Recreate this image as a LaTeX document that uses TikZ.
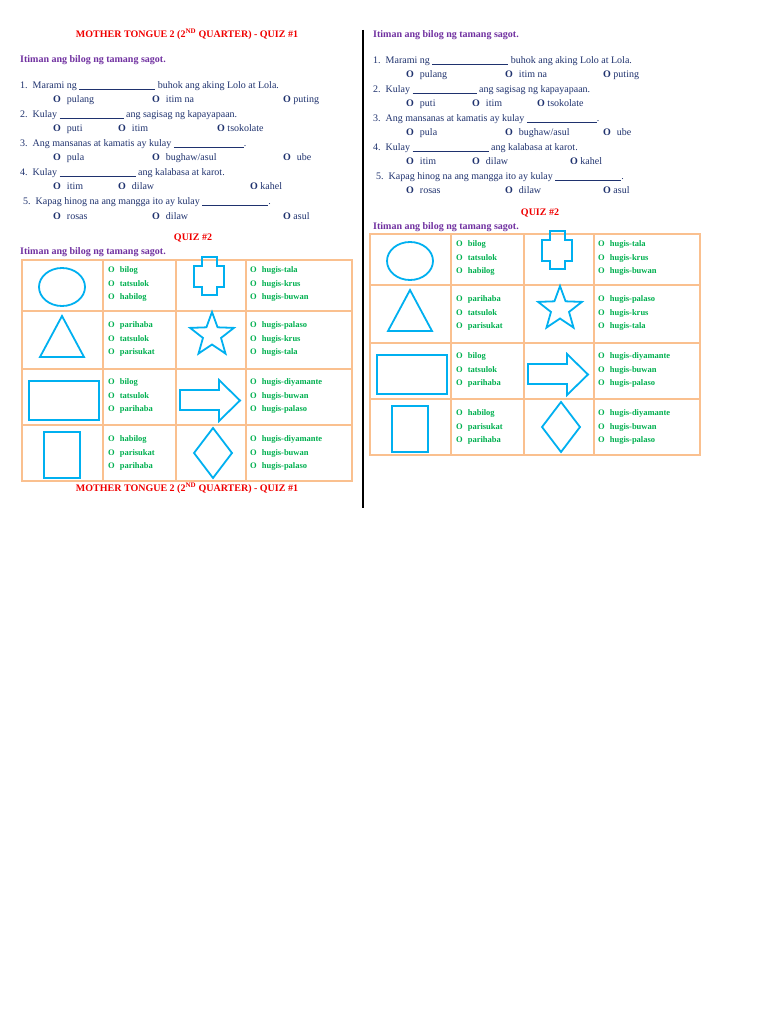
\documentclass[tikz,border=0pt]{standalone}
\usepackage{fontspec}
\setmainfont{Liberation Serif}
\usetikzlibrary{shapes.geometric}
\definecolor{navy}{RGB}{31,50,110}
\definecolor{purp}{RGB}{112,48,160}
\definecolor{grn}{RGB}{0,176,80}
\definecolor{cyn}{RGB}{0,176,240}
\definecolor{org}{RGB}{250,192,143}
\definecolor{redt}{RGB}{240,0,0}
\newcommand{\blank}[1]{\rule[-1pt]{#1pt}{0.5pt}}
\newcommand{\Tx}[3]{\node[txt] at (#1,-#2-3.5) {#3};}
\newcommand{\Op}[3]{\node[txt] at (#1,-#2-3.5) {\textbf{O}\hspace{6pt}#3};}
\newcommand{\quizone}[9]{%
  \pgfmathsetmacro\ya{#2}\pgfmathsetmacro\yb{#2+#3}\pgfmathsetmacro\yc{#2+2*#3}
  \pgfmathsetmacro\yd{#2+3*#3}\pgfmathsetmacro\ye{#2+4*#3}\pgfmathsetmacro\yf{#2+5*#3}
  \pgfmathsetmacro\yg{#2+6*#3}\pgfmathsetmacro\yh{#2+7*#3}\pgfmathsetmacro\yi{#2+8*#3}
  \pgfmathsetmacro\yj{#2+9*#3}
  \Tx{#1}{\ya}{1.\ \ Marami ng \blank{76} buhok ang aking Lolo at Lola.}
  \Op{#4}{\yb}{pulang}\Op{#5}{\yb}{itim na}\Tx{#6}{\yb}{\textbf{O} puting}
  \Tx{#1}{\yc}{2.\ \ Kulay \blank{64} ang sagisag ng kapayapaan.}
  \Op{#4}{\yd}{puti}\Op{#7}{\yd}{itim}\Tx{#8}{\yd}{\textbf{O} tsokolate}
  \Tx{#1}{\ye}{3.\ \ Ang mansanas at kamatis ay kulay \blank{70}.}
  \Op{#4}{\yf}{pula}\Op{#5}{\yf}{bughaw/asul}\Op{#6}{\yf}{ube}
  \Tx{#1}{\yg}{4.\ \ Kulay \blank{76} ang kalabasa at karot.}
  \Op{#4}{\yh}{itim}\Op{#7}{\yh}{dilaw}\Tx{#9}{\yh}{\textbf{O} kahel}
  \Tx{#1+3}{\yi}{5.\ \ Kapag hinog na ang mangga ito ay kulay \blank{66}.}
  \Op{#4}{\yj}{rosas}\Op{#5}{\yj}{dilaw}\Tx{#6}{\yj}{\textbf{O} asul}
}
\newcommand{\gthree}[5]{%
  \node[gtx] at (#1,-#2+13.5-3) {\textbf{O}\hspace{5pt}#3};
  \node[gtx] at (#1,-#2-3) {\textbf{O}\hspace{5pt}#4};
  \node[gtx] at (#1,-#2-13.5-3) {\textbf{O}\hspace{5pt}#5};}
\newcommand{\quiztwo}[2]{%
 \begin{scope}[shift={(#1,-#2)},yscale=-1]
  \draw[org,line width=1.6pt] (0,0) rectangle (330,221);
  \foreach \x in {81,154,224} \draw[org,line width=1.6pt] (\x,0)--(\x,221);
  \foreach \y in {51,109,165} \draw[org,line width=1.6pt] (0,\y)--(330,\y);
  \draw[shp] (40,27) ellipse (23 and 19);
  \draw[shp] (180,-3)--(195,-3)--(195,6)--(202,6)--(202,27)--(195,27)--(195,35)--(180,35)--(180,27)--(172,27)--(172,6)--(180,6)--cycle;
  \draw[shp] (40,56)--(62,97)--(18,97)--cycle;
  \draw[shp] (190,52) \foreach \a in {1,...,9}{ -- ({190+(mod(\a,2)==0?23:9.5)*sin(\a*36)},{75-(mod(\a,2)==0?23:9.5)*cos(\a*36)})} -- cycle;
  \draw[shp] (7,121) rectangle (77,160);
  \draw[shp] (158,130)--(197,130)--(197,120)--(218,140.5)--(197,161)--(197,150)--(158,150)--cycle;
  \draw[shp] (22,172) rectangle (58,218);
  \draw[shp] (191,168)--(210,193)--(191,218)--(172,193)--cycle;
 \end{scope}
 \begin{scope}[shift={(#1,-#2)}]
  \gthree{86}{23}{bilog}{tatsulok}{habilog}
  \gthree{228}{23}{hugis-tala}{hugis-krus}{hugis-buwan}
  \gthree{86}{78}{parihaba}{tatsulok}{parisukat}
  \gthree{228}{78}{hugis-palaso}{hugis-krus}{hugis-tala}
  \gthree{86}{135}{bilog}{tatsulok}{parihaba}
  \gthree{228}{135}{hugis-diyamante}{hugis-buwan}{hugis-palaso}
  \gthree{86}{192}{habilog}{parisukat}{parihaba}
  \gthree{228}{192}{hugis-diyamante}{hugis-buwan}{hugis-palaso}
 \end{scope}}
\begin{document}
\begin{tikzpicture}[x=1pt,y=1pt,
  txt/.style={anchor=base west,inner sep=0pt,text=navy,font=\fontsize{10}{12}\selectfont},
  gtx/.style={anchor=base west,inner sep=0pt,text=grn,font=\fontsize{8.5}{10}\selectfont\bfseries},
  ptx/.style={anchor=west,inner sep=0pt,text=purp,font=\fontsize{10}{12}\selectfont\bfseries},
  rtx/.style={inner sep=0pt,text=redt,font=\fontsize{10}{12}\selectfont\bfseries},
  shp/.style={draw=cyn,line width=1.8pt,line join=miter}]
\useasboundingbox[fill=white] (0,0) rectangle (768,-1024);
\node[rtx] (t1) at (187,-34) {MOTHER TONGUE 2 (2\textsuperscript{\scriptsize ND} QUARTER) - QUIZ \#1};
\node[ptx] (i1) at (20,-60) {Itiman ang bilog ng tamang sagot.};
\quizone{20}{85}{14.5}{53}{152}{283}{118}{217}{250}
\node[rtx] (q2a) at (193,-238) {QUIZ \#2};
\node[ptx] (i2) at (20,-252) {Itiman ang bilog ng tamang sagot.};
\quiztwo{22}{260}
\node[rtx] (t2) at (187,-488) {MOTHER TONGUE 2 (2\textsuperscript{\scriptsize ND} QUARTER) - QUIZ \#1};
\draw[black,line width=1.6pt] (363,-30) -- (363,-508);
\node[ptx] (i3) at (373,-35) {Itiman ang bilog ng tamang sagot.};
\quizone{373}{60}{14.5}{406}{505}{603}{472}{537}{570}
\node[rtx] (q2b) at (540,-213) {QUIZ \#2};
\node[ptx] (i4) at (373,-227) {Itiman ang bilog ng tamang sagot.};
\quiztwo{370}{234}
\end{tikzpicture}
\end{document}
